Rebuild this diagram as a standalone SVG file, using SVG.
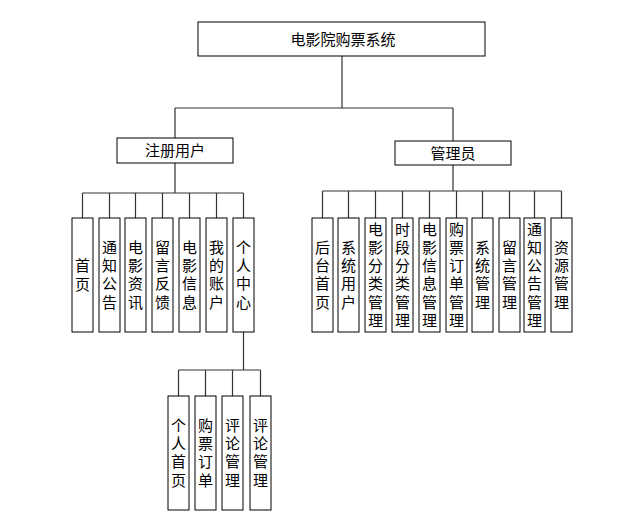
<svg xmlns="http://www.w3.org/2000/svg" width="633" height="522" viewBox="0 0 633 522">
<style>
.box{fill:#fff;stroke:#000;stroke-width:1}
.ln{fill:none;stroke:#333;stroke-width:1.2}
.t{font-family:"Noto Sans CJK SC","Liberation Sans",sans-serif;font-size:15px;text-anchor:middle;fill:#000}
</style>
<rect width="633" height="522" fill="#fff"/>
<g id="connectors">
<path class="ln" d="M342,56V108M175,108H453M175,108V138M453,108V141"/>
<path class="ln" d="M175,163V193M82.5,193H243.5M82.5,193V218M109.5,193V218M135.5,193V218M162.5,193V218M189.5,193V218M216.5,193V218M243.5,193V218"/>
<path class="ln" d="M453,165V191M322.5,191H561.5M322.5,191V218M348.5,191V218M375.5,191V218M402.5,191V218M429.5,191V218M456.5,191V218M482.5,191V218M509.5,191V218M534.5,191V218M561.5,191V218"/>
<path class="ln" d="M243.5,332V370M178.5,370H260.5M178.5,370V396M205.5,370V396M232.5,370V396M260.5,370V396"/>
</g>
<g id="root"><rect class="box" x="198" y="22" width="287" height="34"/><text class="t" x="343" y="44.5">电影院购票系统</text></g>
<g id="user"><rect class="box" x="117" y="138" width="116" height="25"/><text class="t" x="175" y="156">注册用户</text></g>
<g id="admin"><rect class="box" x="395" y="141" width="116" height="24"/><text class="t" x="453" y="158.5">管理员</text></g>

<g id="u1"><rect class="box" x="72" y="218" width="21" height="114"/><text class="t" y="271.2"><tspan x="82.5">首</tspan><tspan x="82.5" dy="18.3">页</tspan></text></g>
<g id="u2"><rect class="box" x="99" y="218" width="21" height="114"/><text class="t" y="252.85"><tspan x="109.5">通</tspan><tspan x="109.5" dy="18.3">知</tspan><tspan x="109.5" dy="18.3">公</tspan><tspan x="109.5" dy="18.3">告</tspan></text></g>
<g id="u3"><rect class="box" x="125" y="218" width="21" height="114"/><text class="t" y="252.85"><tspan x="135.5">电</tspan><tspan x="135.5" dy="18.3">影</tspan><tspan x="135.5" dy="18.3">资</tspan><tspan x="135.5" dy="18.3">讯</tspan></text></g>
<g id="u4"><rect class="box" x="152" y="218" width="21" height="114"/><text class="t" y="252.85"><tspan x="162.5">留</tspan><tspan x="162.5" dy="18.3">言</tspan><tspan x="162.5" dy="18.3">反</tspan><tspan x="162.5" dy="18.3">馈</tspan></text></g>
<g id="u5"><rect class="box" x="179" y="218" width="21" height="114"/><text class="t" y="252.85"><tspan x="189.5">电</tspan><tspan x="189.5" dy="18.3">影</tspan><tspan x="189.5" dy="18.3">信</tspan><tspan x="189.5" dy="18.3">息</tspan></text></g>
<g id="u6"><rect class="box" x="206" y="218" width="21" height="114"/><text class="t" y="252.85"><tspan x="216.5">我</tspan><tspan x="216.5" dy="18.3">的</tspan><tspan x="216.5" dy="18.3">账</tspan><tspan x="216.5" dy="18.3">户</tspan></text></g>
<g id="u7"><rect class="box" x="233" y="218" width="21" height="114"/><text class="t" y="252.85"><tspan x="243.5">个</tspan><tspan x="243.5" dy="18.3">人</tspan><tspan x="243.5" dy="18.3">中</tspan><tspan x="243.5" dy="18.3">心</tspan></text></g>

<g id="a1"><rect class="box" x="312" y="218" width="21" height="114"/><text class="t" y="252.85"><tspan x="322.5">后</tspan><tspan x="322.5" dy="18.3">台</tspan><tspan x="322.5" dy="18.3">首</tspan><tspan x="322.5" dy="18.3">页</tspan></text></g>
<g id="a2"><rect class="box" x="338" y="218" width="21" height="114"/><text class="t" y="252.85"><tspan x="348.5">系</tspan><tspan x="348.5" dy="18.3">统</tspan><tspan x="348.5" dy="18.3">用</tspan><tspan x="348.5" dy="18.3">户</tspan></text></g>
<g id="a3"><rect class="box" x="365" y="218" width="21" height="114"/><text class="t" y="234.55"><tspan x="375.5">电</tspan><tspan x="375.5" dy="18.3">影</tspan><tspan x="375.5" dy="18.3">分</tspan><tspan x="375.5" dy="18.3">类</tspan><tspan x="375.5" dy="18.3">管</tspan><tspan x="375.5" dy="18.3">理</tspan></text></g>
<g id="a4"><rect class="box" x="392" y="218" width="21" height="114"/><text class="t" y="234.55"><tspan x="402.5">时</tspan><tspan x="402.5" dy="18.3">段</tspan><tspan x="402.5" dy="18.3">分</tspan><tspan x="402.5" dy="18.3">类</tspan><tspan x="402.5" dy="18.3">管</tspan><tspan x="402.5" dy="18.3">理</tspan></text></g>
<g id="a5"><rect class="box" x="419" y="218" width="21" height="114"/><text class="t" y="234.55"><tspan x="429.5">电</tspan><tspan x="429.5" dy="18.3">影</tspan><tspan x="429.5" dy="18.3">信</tspan><tspan x="429.5" dy="18.3">息</tspan><tspan x="429.5" dy="18.3">管</tspan><tspan x="429.5" dy="18.3">理</tspan></text></g>
<g id="a6"><rect class="box" x="446" y="218" width="21" height="114"/><text class="t" y="234.55"><tspan x="456.5">购</tspan><tspan x="456.5" dy="18.3">票</tspan><tspan x="456.5" dy="18.3">订</tspan><tspan x="456.5" dy="18.3">单</tspan><tspan x="456.5" dy="18.3">管</tspan><tspan x="456.5" dy="18.3">理</tspan></text></g>
<g id="a7"><rect class="box" x="472" y="218" width="21" height="114"/><text class="t" y="252.85"><tspan x="482.5">系</tspan><tspan x="482.5" dy="18.3">统</tspan><tspan x="482.5" dy="18.3">管</tspan><tspan x="482.5" dy="18.3">理</tspan></text></g>
<g id="a8"><rect class="box" x="499" y="218" width="21" height="114"/><text class="t" y="252.85"><tspan x="509.5">留</tspan><tspan x="509.5" dy="18.3">言</tspan><tspan x="509.5" dy="18.3">管</tspan><tspan x="509.5" dy="18.3">理</tspan></text></g>
<g id="a9"><rect class="box" x="524" y="218" width="21" height="114"/><text class="t" y="234.55"><tspan x="534.5">通</tspan><tspan x="534.5" dy="18.3">知</tspan><tspan x="534.5" dy="18.3">公</tspan><tspan x="534.5" dy="18.3">告</tspan><tspan x="534.5" dy="18.3">管</tspan><tspan x="534.5" dy="18.3">理</tspan></text></g>
<g id="a10"><rect class="box" x="551" y="218" width="21" height="114"/><text class="t" y="252.85"><tspan x="561.5">资</tspan><tspan x="561.5" dy="18.3">源</tspan><tspan x="561.5" dy="18.3">管</tspan><tspan x="561.5" dy="18.3">理</tspan></text></g>

<g id="s1"><rect class="box" x="168" y="396" width="21" height="114"/><text class="t" y="430.85"><tspan x="178.5">个</tspan><tspan x="178.5" dy="18.3">人</tspan><tspan x="178.5" dy="18.3">首</tspan><tspan x="178.5" dy="18.3">页</tspan></text></g>
<g id="s2"><rect class="box" x="195" y="396" width="21" height="114"/><text class="t" y="430.85"><tspan x="205.5">购</tspan><tspan x="205.5" dy="18.3">票</tspan><tspan x="205.5" dy="18.3">订</tspan><tspan x="205.5" dy="18.3">单</tspan></text></g>
<g id="s3"><rect class="box" x="222" y="396" width="21" height="114"/><text class="t" y="430.85"><tspan x="232.5">评</tspan><tspan x="232.5" dy="18.3">论</tspan><tspan x="232.5" dy="18.3">管</tspan><tspan x="232.5" dy="18.3">理</tspan></text></g>
<g id="s4"><rect class="box" x="250" y="396" width="21" height="114"/><text class="t" y="430.85"><tspan x="260.5">评</tspan><tspan x="260.5" dy="18.3">论</tspan><tspan x="260.5" dy="18.3">管</tspan><tspan x="260.5" dy="18.3">理</tspan></text></g>
</svg>
